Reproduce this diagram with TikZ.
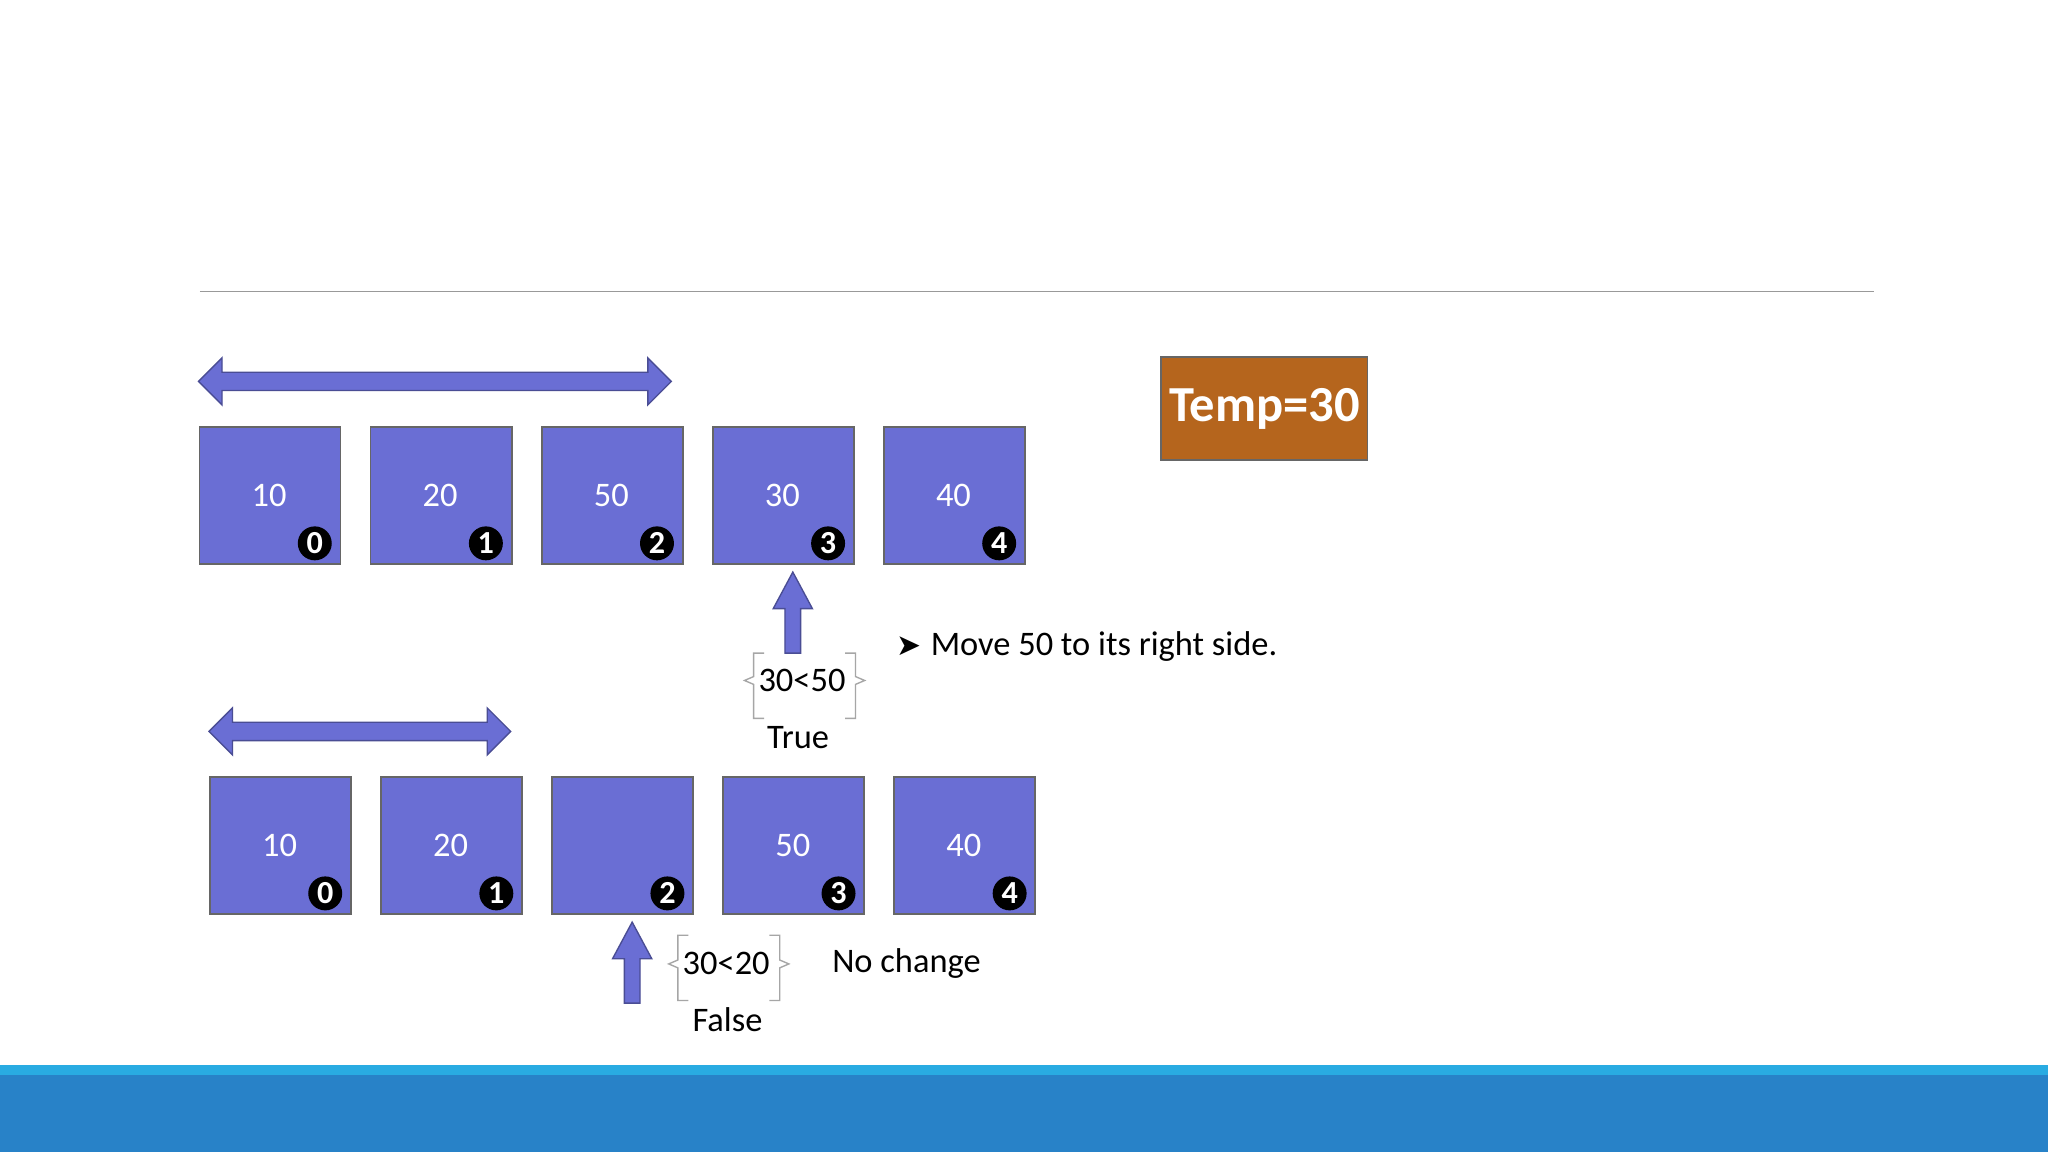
\documentclass[tikz,border=0pt]{standalone}
\usepackage{fontspec}
\setmainfont{Carlito}
\begin{document}
\begin{tikzpicture}[x=0.02cm,y=-0.02cm,
  cell/.style={draw=black!60,line width=0.8pt,fill=boxblue,minimum width=108*0.02cm,minimum height=105*0.02cm,anchor=north west,inner sep=0pt},
  val/.style={text=white,font=\fontsize{15}{18}\selectfont},
  idx/.style={circle,fill=black,text=white,inner sep=0pt,minimum size=26*0.02cm,font=\bfseries\fontsize{14}{16}\selectfont},
  blk/.style={draw=boxblue!70!black,line width=0.6pt,fill=boxblue},
  lbl/.style={font=\fontsize{15}{18}\selectfont},
  brk/.style={draw=black!35,line width=0.6pt}]
\definecolor{boxblue}{RGB}{106,110,212}
\definecolor{barlight}{RGB}{41,171,226}
\definecolor{bardark}{RGB}{40,130,200}
\definecolor{tempbrown}{RGB}{181,101,29}
\useasboundingbox (0,0) rectangle (1568,882);
\fill[white] (0,0) rectangle (1568,882);
\draw[black!40,line width=0.6pt] (153,223) -- (1435,223);
\fill[barlight] (0,815) rectangle (1568,823);
\fill[bardark] (0,823) rectangle (1568,882);
% double arrows
\draw[blk] (152,292) -- (170,274) -- (170,285) -- (496,285) -- (496,274) -- (514,292) -- (496,310) -- (496,299) -- (170,299) -- (170,310) -- cycle;
\draw[blk] (160,560) -- (178,542) -- (178,553) -- (373,553) -- (373,542) -- (391,560) -- (373,578) -- (373,567) -- (178,567) -- (178,578) -- cycle;
% row 1
\foreach \i/\v in {0/10,1/20,2/50,3/30,4/40}{
  \node[cell] (a\i) at (152+131*\i,326) {};
  \node[val] (av\i) at (206+131*\i,379) {\v};
  \node[idx] (ai\i) at (241+131*\i,416) {\i};
}
% row 2
\foreach \i/\v in {0/10,1/20,2/{},3/50,4/40}{
  \node[cell] (b\i) at (160+131*\i,594) {};
  \node[val] (bv\i) at (214+131*\i,647) {\v};
  \node[idx] (bi\i) at (249+131*\i,684) {\i};
}
% up arrows
\draw[blk] (607,438) -- (622,466) -- (613,466) -- (613,500) -- (601,500) -- (601,466) -- (592,466) -- cycle;
\draw[blk] (484,706) -- (499,734) -- (490,734) -- (490,768) -- (478,768) -- (478,734) -- (469,734) -- cycle;
% temp
\node[draw=black!60,line width=0.8pt,fill=tempbrown,text=white,minimum width=158*0.02cm,minimum height=79*0.02cm,font=\bfseries\fontsize{22}{26}\selectfont] (temp) at (968,313) {Temp=30};
% brackets 1
\draw[brk] (585,500) -- (577,500) -- (577,518) -- (570,521) -- (577,524) -- (577,550) -- (585,550);
\draw[brk] (647,500) -- (655,500) -- (655,518) -- (662,521) -- (655,524) -- (655,550) -- (647,550);
\node[lbl] (c1) at (614,521) {30<50};
\node[lbl] (t1) at (611,565) {True};
\node[lbl,anchor=west] (m1) at (680,495) {\fontspec{DejaVu Sans}\fontsize{13}{16}\selectfont ➤\ \normalfont\fontsize{15}{18}\selectfont Move 50 to its right side.};
% brackets 2
\draw[brk] (527,716) -- (519,716) -- (519,735) -- (512,738) -- (519,741) -- (519,766) -- (527,766);
\draw[brk] (589,716) -- (597,716) -- (597,735) -- (604,738) -- (597,741) -- (597,766) -- (589,766);
\node[lbl] (c2) at (556,738) {30<20};
\node[lbl] (f2) at (557,781) {False};
\node[lbl] (nc) at (694,738) {No change};
\end{tikzpicture}
\end{document}
